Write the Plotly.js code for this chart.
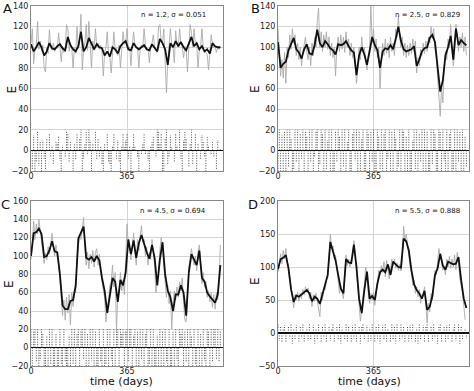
<!DOCTYPE html>
<html><head><meta charset="utf-8">
<script src="https://cdn.plot.ly/plotly-3.0.1.min.js"></script>
<style>html,body{margin:0;padding:0;background:#fff}#chart{width:474px;height:391px}</style>
</head><body><div id="chart"></div>
<script>
const days10 = [0,10,20,30,40,50,60,70,80,90,100,110,120,130,140,150,160,170,180,190,200,210,220,230,240,250,260,270,280,290,300,310,320,330,340,350,360,370,380,390,400,410,420,430,440,450,460,470,480,490,500,510,520,530,540,550,560,570,580,590,600,610,620,630,640,650,660,670,680,690,700,710,720];
const days5 = [0,5,10,15,20,25,30,35,40,45,50,55,60,65,70,75,80,85,90,95,100,105,110,115,120,125,130,135,140,145,150,155,160,165,170,175,180,185,190,195,200,205,210,215,220,225,230,235,240,245,250,255,260,265,270,275,280,285,290,295,300,305,310,315,320,325,330,335,340,345,350,355,360,365,370,375,380,385,390,395,400,405,410,415,420,425,430,435,440,445,450,455,460,465,470,475,480,485,490,495,500,505,510,515,520,525,530,535,540,545,550,555,560,565,570,575,580,585,590,595,600,605,610,615,620,625,630,635,640,645,650,655,660,665,670,675,680,685,690,695,700,705,710,715,720];

const smoothA = [103,96,100,105,100,92,96,104,99,98,
101,103,99,97,110,102,98,96,101,115,
96,100,109,104,98,103,100,99,92,96,
91,100,98,94,101,104,106,98,97,104,
100,98,100,102,98,97,103,100,96,108,
104,98,83,104,100,106,101,105,100,97,
103,110,101,104,98,101,96,98,94,104,
101,100,100];
const rawA = [104,118,84,98,102,125,98,106,96,102,
80,76,99,94,117,100,97,104,96,100,
99,114,100,86,101,95,98,122,118,96,
104,99,80,100,94,120,99,108,132,78,
98,104,122,97,125,104,80,106,97,118,
100,104,98,102,96,72,95,100,115,92,
90,75,100,115,97,99,92,102,80,104,
115,103,104,118,97,100,82,101,115,103,
99,100,80,98,102,100,118,103,97,99,
85,100,104,112,100,98,95,120,122,106,
104,118,88,56,86,100,118,103,100,85,
116,103,100,118,104,100,90,101,97,76,
103,122,114,100,118,102,104,80,98,101,
118,99,96,95,93,78,94,112,103,100,
101,95,100,98,100];
const resA = [0,-18,15,-20,-12,18,-15,8,-20,10,
-8,-19,12,0,16,-6,4,-14,0,9,
6,14,-10,-20,5,0,-7,18,16,-12,
8,0,-20,6,-9,17,0,12,20,-20,
-8,6,18,-5,20,10,-20,7,0,18,
-9,12,-6,4,-14,-20,6,0,17,-12,
-14,-20,4,16,0,-8,10,-11,-20,5,
16,3,10,17,-8,4,-20,3,16,5,
0,-6,-20,0,-4,6,17,-4,0,-10,
-20,4,8,13,0,-6,20,18,7,17,
-20,-20,12,20,-14,-7,15,3,0,-12,
17,5,0,20,-8,-20,10,18,12,0,
-16,6,20,-14,0,17,-20,6,0,-9,
15,8,-6,-20,13,5,0,-4,8,-6,
0,-18,10,0,2];

const smoothB = [105,80,84,86,97,104,109,98,95,89,
98,103,94,93,102,117,104,100,106,103,
99,97,93,103,102,103,106,101,97,95,
73,92,100,93,83,96,110,102,97,80,
96,99,98,102,98,108,120,106,98,96,
97,98,101,82,88,96,99,100,109,112,
105,78,57,68,92,100,111,88,118,102,
107,104,102];
const rawB = [118,95,72,88,70,95,65,100,90,112,
98,118,104,112,92,104,88,100,82,95,
104,110,96,88,100,82,104,92,110,100,
125,138,100,115,96,112,100,115,98,110,
92,104,90,100,72,100,110,96,112,98,
110,95,115,100,108,92,104,90,100,85,
65,80,100,88,110,95,100,88,78,92,
100,140,104,118,96,108,90,100,60,88,
104,92,108,94,104,90,110,96,104,92,
118,110,130,112,100,110,92,104,90,102,
92,104,94,108,96,106,75,90,82,98,
92,104,94,106,96,110,104,120,108,118,
98,90,70,52,33,60,46,80,96,88,
108,100,122,100,82,96,122,112,96,110,
100,114,96,110,92];
const resB = [-20,20,-20,15,-20,18,-20,20,-16,20,
12,-20,-18,20,-12,20,-20,16,-8,20,
-20,18,14,-20,20,-12,20,-20,-6,18,
20,-20,-14,20,16,-20,20,-18,10,20,
-20,20,-20,-20,18,-12,20,14,-20,20,
-16,20,-20,8,20,-20,-20,16,20,-10,
20,-20,18,-20,12,20,-20,-20,20,16,
-20,18,-12,20,-20,-20,20,14,-18,20,
-20,16,20,-20,-8,20,-20,18,-20,20,
12,-20,-16,20,-20,20,18,-20,14,-20,
20,-20,-20,10,20,-18,20,-20,16,-12,
20,-20,20,-20,18,-20,-20,20,-14,20,
16,-20,-20,20,18,-20,20,-10,-20,20,
-20,16,20,-20,-18,20,-20,20,-12,18,
-20,20,-20,14,-16];

const smoothC = [100,125,126,130,124,99,100,106,116,105,
104,80,46,42,42,51,52,68,119,125,
132,98,96,99,94,100,95,76,62,38,
60,76,72,50,74,68,82,118,102,117,
98,114,123,112,104,97,112,98,68,96,
115,80,62,55,40,58,58,68,60,35,
82,102,95,90,106,76,72,60,56,53,
49,58,90];
const rawC = [96,112,138,118,135,124,140,126,112,98,
92,103,96,110,102,112,125,110,100,112,
98,92,74,58,35,52,30,55,38,58,
25,60,45,62,60,98,112,122,118,130,
142,108,90,104,86,102,92,106,88,104,
108,90,102,82,70,62,55,28,45,52,
68,72,90,66,82,18,58,60,82,62,
74,58,96,135,112,108,96,112,125,108,
90,118,106,122,133,115,118,100,110,90,
104,96,118,104,90,60,74,82,106,120,
108,90,70,55,68,48,62,20,48,62,
52,66,55,72,62,76,50,30,28,62,
88,96,108,98,90,100,84,104,112,92,
70,82,66,72,55,62,50,60,44,58,
42,60,52,75,112];
const resC = [20,-20,18,20,-16,20,-20,-14,20,16,
-20,-20,12,-20,20,-18,20,-20,-20,16,
-20,-20,20,-18,-20,20,-16,-20,-20,14,
-20,20,-18,20,-20,16,20,-20,18,20,
-12,20,-20,16,-20,20,-14,20,-20,18,
-20,-20,20,-16,-20,20,-20,-18,20,-20,
20,-14,-20,20,-20,18,20,-20,20,16,
20,-20,18,20,-16,20,20,-20,14,20,
-20,18,-20,20,-12,20,-20,16,20,-20,
-18,20,-20,20,-20,-20,14,-20,20,-20,
18,-20,20,-16,-20,20,-20,-20,18,-20,
20,-14,-20,20,16,20,-20,18,-16,20,
-20,20,12,-20,20,-18,-20,20,-20,16,
-20,20,-14,-20,20,18,-20,20,-16,20,
20,-12,20,-16,18];

const smoothD = [97,112,114,118,98,66,47,57,55,58,
61,65,60,48,55,52,44,58,70,88,
138,125,110,88,67,60,112,107,106,134,
100,52,30,65,93,52,56,50,75,92,
96,92,104,88,108,104,100,99,143,139,
125,95,74,65,60,52,64,35,40,56,
88,98,120,102,96,108,106,104,105,115,
80,52,38];
const rawD = [92,110,120,105,125,112,128,108,102,85,
70,52,38,58,50,62,48,60,52,66,
58,70,62,68,52,62,40,58,48,60,
46,38,25,62,50,68,65,80,84,112,
150,128,132,112,118,98,82,60,72,58,
52,90,118,102,112,100,112,115,140,118,
90,65,45,18,35,50,72,100,88,60,
45,60,50,62,42,58,80,95,88,102,
92,108,85,110,98,82,95,112,102,112,
98,106,95,104,94,110,162,140,150,132,
120,100,92,72,80,60,70,55,66,45,
58,60,70,40,15,45,32,60,50,70,
95,88,105,128,115,108,95,102,88,112,
100,116,98,112,100,118,96,122,110,82,
72,62,42,20];
const resD = [14,-12,10,-15,8,12,-14,0,10,-8,
14,-16,6,-10,12,0,-14,9,-6,13,
-15,0,8,-12,14,-10,0,12,-16,7,
-9,15,0,-13,11,-8,14,-15,0,10,
-12,6,15,-14,0,9,-11,14,-16,8,
0,-10,13,-14,10,0,-15,12,-8,15,
-13,0,11,-16,9,14,-10,0,12,-15,
8,-12,15,0,-14,10,-9,13,-16,0,
12,-11,15,-13,7,0,-15,14,-10,9,
-16,13,0,-12,15,-8,11,-14,0,10,
-15,12,-9,14,0,-13,8,-16,15,-10,
0,12,-14,9,13,-15,0,11,-12,14,
-8,0,-16,10,15,-13,0,9,-14,12,
-10,15,0,-15,8,13,-12,0,14,-16,
10,-9,0,6,-8];

const panelLetters = ['A','B','C','D'];
const statTexts = ['n = 1.2, σ = 0.051','n = 2.5, σ = 0.829','n = 4.5, σ = 0.694','n = 5.5, σ = 0.888'];
const yRanges = [[-20,140],[-20,140],[-20,160],[-50,200]];
const yDticks = [20,20,20,50];
const xTickVals = [0,365];
const xTickText = ['0','365'];
const yTitle = 'E';
const xTitle = 'time (days)';

const smooth = [smoothA,smoothB,smoothC,smoothD];
const raw = [rawA,rawB,rawC,rawD];
const res = [resA,resB,resC,resD];

const W = 474, H = 391;
const px = v => v / W;
const py = v => 1 - v / H;
const boxes = [[31,223,6,171],[278,469,6,171],[31,223,201,366],[278,469,201,366]];

const traces = [];
const layout = {
  width: W, height: H, margin: {l:0,r:0,t:0,b:0},
  paper_bgcolor: '#fff', plot_bgcolor: '#fff', showlegend: false,
  font: {family: 'DejaVu Sans', size: 8, color: '#222'},
  annotations: []
};
const font = 'DejaVu Sans';

for (let i = 0; i < 4; i++) {
  const n = i + 1;
  const xa = 'x' + (n === 1 ? '' : n), ya = 'y' + (n === 1 ? '' : n);
  const sx = [], sy = [];
  res[i].forEach((v, k) => { if (k < days5.length && v !== 0) { sx.push(days5[k], days5[k], null); sy.push(0, v, null); } });
  traces.push({x: sx, y: sy, xaxis: xa, yaxis: ya, mode: 'lines', type: 'scatter',
    line: {color: '#1a1a1a', width: 0.8, dash: '1px,1.5px'}, hoverinfo: 'skip'});
  traces.push({x: days5.slice(0, raw[i].length), y: raw[i], xaxis: xa, yaxis: ya, mode: 'lines', type: 'scatter',
    line: {color: '#ababab', width: 0.9}, hoverinfo: 'skip'});
  traces.push({x: days10.slice(0, smooth[i].length), y: smooth[i], xaxis: xa, yaxis: ya, mode: 'lines', type: 'scatter',
    line: {color: '#111', width: 1.8}, hoverinfo: 'skip'});
  const b = boxes[i];
  layout['xaxis' + (n === 1 ? '' : n)] = {
    domain: [px(b[0]), px(b[1])], anchor: ya, range: [0, 730],
    tickvals: xTickVals, ticktext: xTickText, ticks: '', ticklen: 0, ticklabelstandoff: -3,
    showgrid: true, gridcolor: '#d4d4d4', gridwidth: 1, zeroline: false,
    showline: true, mirror: true, linecolor: '#888', linewidth: 1,
    tickfont: {family: font, size: 8, color: '#222'}
  };
  layout['yaxis' + (n === 1 ? '' : n)] = {
    domain: [py(b[3]), py(b[2])], anchor: xa, range: yRanges[i], dtick: yDticks[i], tick0: 0,
    ticks: '', ticklen: 0, showgrid: true, gridcolor: '#d4d4d4', gridwidth: 1,
    zeroline: true, zerolinecolor: '#111', zerolinewidth: 1.2,
    showline: true, mirror: true, linecolor: '#888', linewidth: 1,
    tickfont: {family: font, size: 8, color: '#222'}
  };
}

const letterPos = [[7,8],[255,8],[5,204],[253,204]];
const ePos = [[11.5,90],[255,89],[9,284],[255,281]];
const statPos = [[173,15],[427,15],[173,211],[427,211]];
for (let i = 0; i < 4; i++) {
  layout.annotations.push({text: panelLetters[i], xref: 'paper', yref: 'paper', x: px(letterPos[i][0]), y: py(letterPos[i][1]),
    xanchor: 'center', yanchor: 'middle', showarrow: false, font: {family: font, size: 13, color: '#111'}});
  layout.annotations.push({text: yTitle, xref: 'paper', yref: 'paper', x: px(ePos[i][0]), y: py(ePos[i][1]), textangle: -90,
    xanchor: 'center', yanchor: 'middle', showarrow: false, font: {family: font, size: 12, color: '#111'}});
  layout.annotations.push({text: statTexts[i], xref: 'paper', yref: 'paper', x: px(statPos[i][0]), y: py(statPos[i][1]),
    xanchor: 'center', yanchor: 'middle', showarrow: false, font: {family: font, size: 7, color: '#111'}});
}
layout.annotations.push({text: xTitle, xref: 'paper', yref: 'paper', x: px(121), y: py(381), xanchor: 'center', yanchor: 'middle',
  showarrow: false, font: {family: font, size: 11, color: '#111'}});
layout.annotations.push({text: xTitle, xref: 'paper', yref: 'paper', x: px(369), y: py(381), xanchor: 'center', yanchor: 'middle',
  showarrow: false, font: {family: font, size: 11, color: '#111'}});

Plotly.newPlot('chart', traces, layout, {staticPlot: true, displayModeBar: false});
</script>
</body></html>
